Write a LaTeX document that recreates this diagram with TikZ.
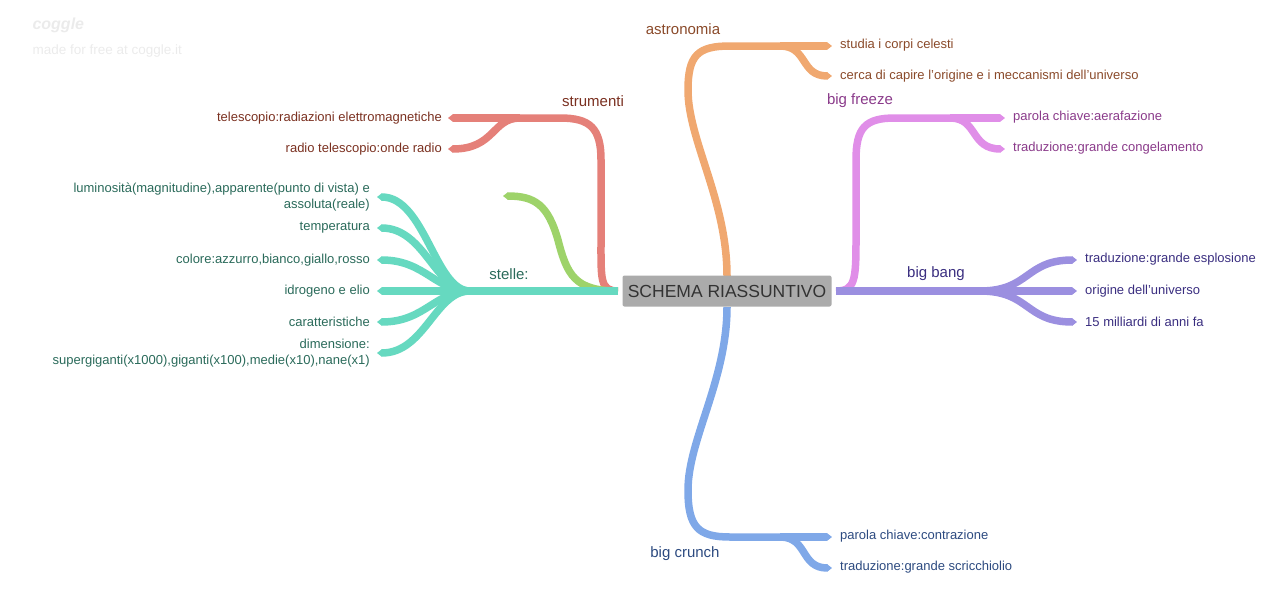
\documentclass[tikz,border=0pt]{standalone}
\usepackage{fontspec}
\setmainfont{Liberation Sans}
\usetikzlibrary{arrows.meta}
\definecolor{cOr}{HTML}{F0A870}
\definecolor{cRd}{HTML}{E58079}
\definecolor{cGr}{HTML}{9ED36A}
\definecolor{cTl}{HTML}{66D9C0}
\definecolor{cPk}{HTML}{E08EE8}
\definecolor{cPu}{HTML}{9B8FE0}
\definecolor{cBl}{HTML}{7FA8E8}
\definecolor{tOr}{HTML}{8A4A2A}
\definecolor{tRd}{HTML}{7A3020}
\definecolor{tTl}{HTML}{2A6A5A}
\definecolor{tPk}{HTML}{8A3A8A}
\definecolor{tPu}{HTML}{3A2E80}
\definecolor{tBl}{HTML}{2C4A80}
\tikzset{
 br/.style={line width=7.5pt,-{Triangle[length=5pt,width=7.5pt]}},
 brn/.style={line width=7.5pt},
 lbl/.style={font=\fontsize{15}{17}\selectfont,inner sep=0pt},
 leafR/.style={font=\fontsize{13}{15.5}\selectfont,anchor=west,inner sep=0pt,align=left},
 leafL/.style={font=\fontsize{13}{15.5}\selectfont,anchor=east,inner sep=0pt,align=right},
}
\begin{document}
\begin{tikzpicture}[x=1pt,y=-1pt]
\useasboundingbox (0,0) rectangle (1280,613);
\node[anchor=west,text=black!8,font=\itshape\bfseries\fontsize{16}{18}\selectfont] (wm) at (29,25) {coggle};
\node[anchor=west,text=black!8,font=\fontsize{13.5}{15}\selectfont] (wm2) at (29,51) {made for free at coggle.it};

\coordinate (cT) at (727,276); \coordinate (cB) at (727,307);
\coordinate (cL) at (618,291); \coordinate (cR) at (836,291);
% astronomia
\coordinate (aH) at (780,46); \coordinate (a1) at (832,46); \coordinate (a2) at (832,76);
\draw[cOr,brn] (cT) .. controls (727,200) and (688,140) .. (688,90) .. controls (688,55) and (698,46) .. (730,46) -- (aH);
\draw[cOr,br] (aH) -- (a1);
\draw[cOr,br] (aH) .. controls (808,46) and (800,76) .. (a2);
\node[lbl,text=tOr] (astro) at (683,29) {astronomia};
\node[leafR,text=tOr] (at1) at (840,45) {studia i corpi celesti};
\node[leafR,text=tOr] (at2) at (840,76) {cerca di capire l'origine e i meccanismi dell'universo};
% strumenti
\coordinate (sH) at (520,118); \coordinate (s1) at (448,118); \coordinate (s2) at (448,149);
\draw[cRd,brn] (cL) .. controls (600,291) and (601,280) .. (601,240) -- (601,160) .. controls (601,128) and (590,118) .. (560,118) -- (sH);
\draw[cRd,br] (sH) -- (s1);
\draw[cRd,br] (sH) .. controls (492,118) and (495,149) .. (s2);
\node[lbl,text=tRd] (strum) at (593,101) {strumenti};
\node[leafL,text=tRd] (st1) at (442,118) {telescopio:radiazioni elettromagnetiche};
\node[leafL,text=tRd] (st2) at (442,149) {radio telescopio:onde radio};
% green
\coordinate (g1) at (503,196);
\draw[cGr,br] (cL) .. controls (575,291) and (567,275) .. (558,240) .. controls (548,205) and (535,196) .. (g1);
% stelle
\coordinate (tH) at (470,291);
\draw[cTl,brn] (cL) -- (tH);
\node[lbl,text=tTl] (stel) at (509,274) {stelle:};
\foreach \y/\n in {197/1,228/2,260/3,291/4,322/5,353/6}{
  \coordinate (t\n) at (377,\y);
  \draw[cTl,br] (tH) .. controls (435,291) and (425,\y) .. (t\n);
}
\node[leafL,text=tTl] (tt1) at (370,197) {luminosità(magnitudine),apparente(punto di vista) e\\assoluta(reale)};
\node[leafL,text=tTl] (tt2) at (370,228) {temperatura};
\node[leafL,text=tTl] (tt3) at (370,260) {colore:azzurro,bianco,giallo,rosso};
\node[leafL,text=tTl] (tt4) at (370,291) {idrogeno e elio};
\node[leafL,text=tTl] (tt5) at (370,322) {caratteristiche};
\node[leafL,text=tTl] (tt6) at (370,353) {dimensione:\\supergiganti(x1000),giganti(x100),medie(x10),nane(x1)};
% big freeze
\coordinate (fH) at (950,118); \coordinate (f1) at (1005,118); \coordinate (f2) at (1005,149);
\draw[cPk,brn] (cR) .. controls (855,291) and (856,280) .. (856,240) -- (856,160) .. controls (856,128) and (865,118) .. (895,118) -- (fH);
\draw[cPk,br] (fH) -- (f1);
\draw[cPk,br] (fH) .. controls (978,118) and (970,149) .. (f2);
\node[lbl,text=tPk] (frz) at (860,101) {big freeze};
\node[leafR,text=tPk] (ft1) at (1013,117) {parola chiave:aerafazione};
\node[leafR,text=tPk] (ft2) at (1013,148) {traduzione:grande congelamento};
% big bang
\coordinate (bH) at (980,291);
\draw[cPu,brn] (cR) -- (bH);
\foreach \y/\n in {260/1,291/2,322/3}{
  \coordinate (b\n) at (1077,\y);
  \draw[cPu,br] (bH) .. controls (1030,291) and (1025,\y) .. (b\n);
}
\node[lbl,text=tPu] (bang) at (936,274) {big bang};
\node[leafR,text=tPu] (bt1) at (1085,259) {traduzione:grande esplosione};
\node[leafR,text=tPu] (bt2) at (1085,291) {origine dell'universo};
\node[leafR,text=tPu] (bt3) at (1085,322) {15 milliardi di anni fa};
% big crunch
\coordinate (kH) at (780,537); \coordinate (k1) at (832,537); \coordinate (k2) at (832,568);
\draw[cBl,brn] (cB) .. controls (727,380) and (688,440) .. (688,490) .. controls (688,527) and (698,537) .. (730,537) -- (kH);
\draw[cBl,br] (kH) -- (k1);
\draw[cBl,br] (kH) .. controls (808,537) and (800,568) .. (k2);
\node[lbl,text=tBl] (crn) at (685,554) {big crunch};
\node[leafR,text=tBl] (kt1) at (840,536) {parola chiave:contrazione};
\node[leafR,text=tBl] (kt2) at (840,567) {traduzione:grande scricchiolio};
% center
\node[fill=black!33,text=black!80,minimum width=209pt,minimum height=31pt,rounded corners=2pt,inner sep=0pt,font=\fontsize{17.5}{19}\selectfont] (c) at (727,291) {SCHEMA RIASSUNTIVO};
\end{tikzpicture}
\end{document}
